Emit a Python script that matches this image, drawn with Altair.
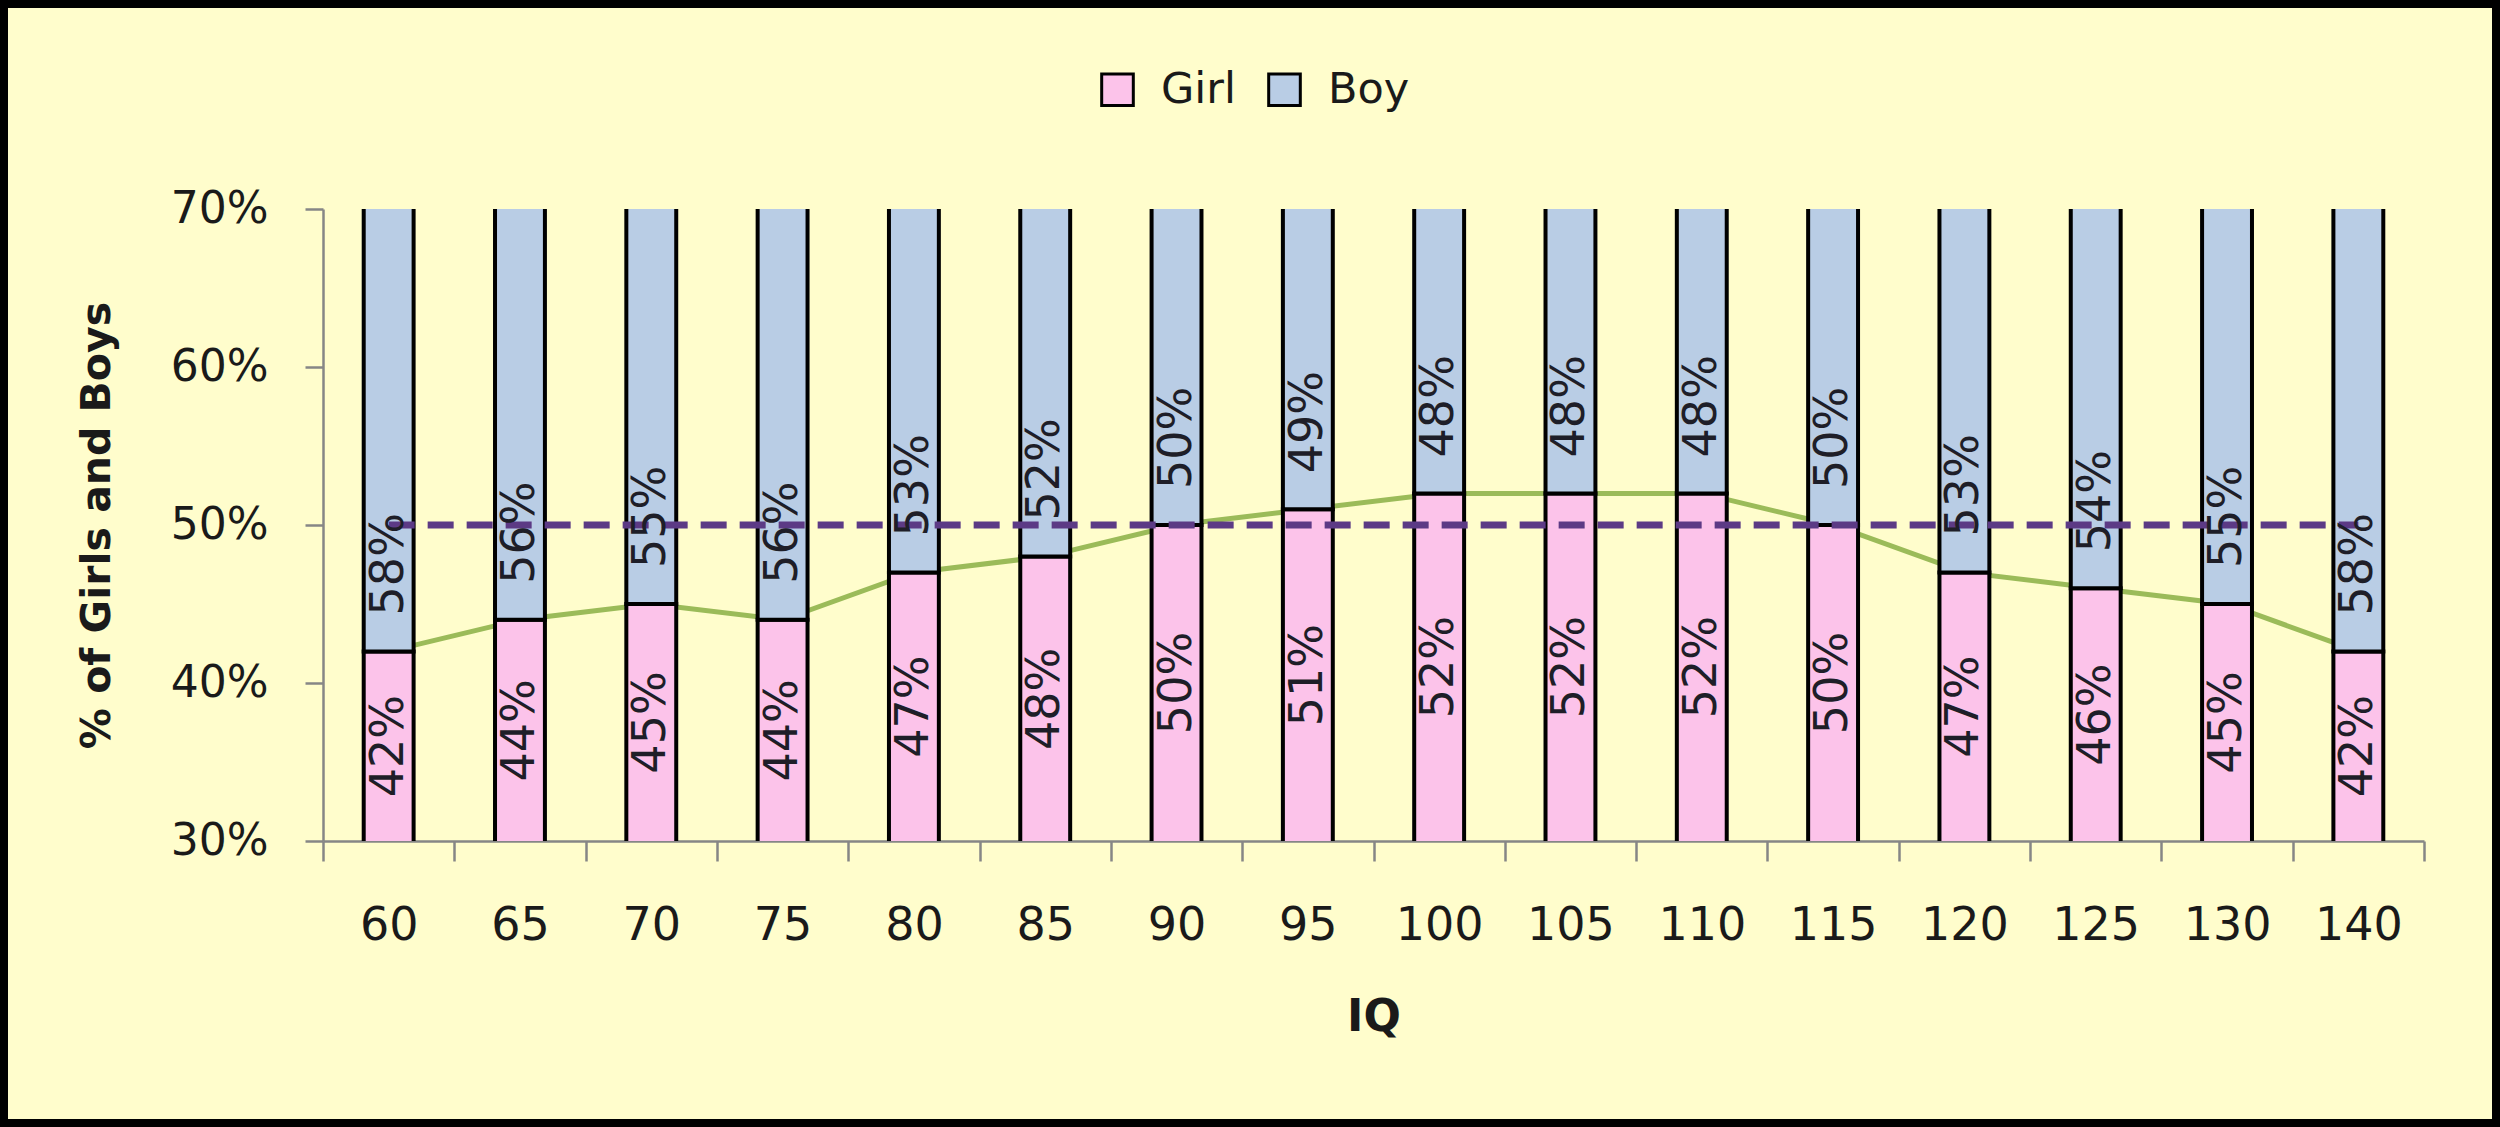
import altair as alt
import pandas as pd

# ---- data ----
iq = [60, 65, 70, 75, 80, 85, 90, 95, 100, 105, 110, 115, 120, 125, 130, 140]
girl = [0.42, 0.44, 0.45, 0.44, 0.47, 0.48, 0.50, 0.51, 0.52, 0.52, 0.52, 0.50, 0.47, 0.46, 0.45, 0.42]
boy = [0.58, 0.56, 0.55, 0.56, 0.53, 0.52, 0.50, 0.49, 0.48, 0.48, 0.48, 0.50, 0.53, 0.54, 0.55, 0.58]
series = ["Girl", "Boy"]
colors = ["#FCC3EA", "#B9CDE5"]
y_ticks = [0.3, 0.4, 0.5, 0.6, 0.7]
even_line = 0.5

Y_MIN, Y_MAX = 0.3, 0.7

# ---- tables built from the arrays ----
long_rows = []
for i, g, b in zip(iq, girl, boy):
    long_rows.append({"IQ": i, "sex": "Girl", "order": 0, "value": g})
    long_rows.append({"IQ": i, "sex": "Boy", "order": 1, "value": b})
long_df = pd.DataFrame(long_rows)
wide_df = pd.DataFrame({"IQ": iq, "girl": girl, "boy": boy})

FONT = "DejaVu Sans"
W, H = 2101, 632
PAD_L, PAD_T, PAD_R, PAD_B = 323, 209, 76, 286

x_enc = alt.X(
    "IQ:O",
    title="IQ",
    scale=alt.Scale(paddingInner=0, paddingOuter=0),
    axis=alt.Axis(
        labelAngle=0,
        labelAlign="center",
        tickBand="extent",
        tickSize=20,
        labelPadding=64,
        titlePadding=47,
        labelFontSize=46,
        titleFontSize=44,
        titleFontWeight="bold",
    ),
)
y_scale = alt.Scale(domain=[Y_MIN, Y_MAX], nice=False, zero=False)

bars = alt.Chart(long_df).mark_bar(
    stroke="black", strokeWidth=4, clip=True, width=alt.RelativeBandSize(0.38)
).encode(
    x=x_enc,
    y=alt.Y(
        "value:Q",
        stack="zero",
        scale=y_scale,
        title="% of Girls and Boys",
        axis=alt.Axis(
            values=y_ticks,
            format=".0%",
            tickSize=18,
            labelPadding=37,
            titlePadding=52,
            labelFontSize=44,
            titleFontSize=41,
            titleFontWeight="bold",
        ),
    ),
    color=alt.Color(
        "sex:N",
        scale=alt.Scale(domain=series, range=colors),
        legend=alt.Legend(
            title=None,
            orient="none",
            legendX=773,
            legendY=-141,
            direction="horizontal",
            symbolType="square",
            symbolSize=1000,
            symbolStrokeColor="black",
            symbolStrokeWidth=3,
            labelFontSize=43,
            labelOffset=22,
            columnPadding=26,
        ),
    ),
    order=alt.Order("order:Q"),
)

green = alt.Chart(wide_df).mark_line(color="#9BBB59", strokeWidth=5).encode(
    x=alt.X("IQ:O"),
    y=alt.Y("girl:Q", scale=y_scale),
)

dashed = alt.Chart(wide_df).mark_line(
    color="#5C3A85", strokeWidth=7, strokeDash=[26, 13]
).encode(
    x=alt.X("IQ:O"),
    y=alt.datum(even_line),
)

girl_lbl = alt.Chart(wide_df).transform_calculate(
    mid=f"({Y_MIN} + datum.girl) / 2"
).mark_text(
    angle=270, align="center", baseline="middle", fontSize=46, color="#1E1E28", font=FONT
).encode(
    x=alt.X("IQ:O"),
    y=alt.Y("mid:Q", scale=y_scale),
    text=alt.Text("girl:Q", format=".0%"),
)

boy_lbl = alt.Chart(wide_df).mark_text(
    angle=270, align="left", baseline="middle", dx=36, fontSize=46, color="#1E1E28", font=FONT
).encode(
    x=alt.X("IQ:O"),
    y=alt.Y("girl:Q", scale=y_scale),
    text=alt.Text("boy:Q", format=".0%"),
)

frame = alt.Chart(alt.Data(values=[{"k": 1}])).mark_rect(
    fillOpacity=0, stroke="black", strokeWidth=8
).encode(
    x=alt.value(-PAD_L + 4),
    x2=alt.value(W + PAD_R - 4),
    y=alt.value(-PAD_T + 4),
    y2=alt.value(H + PAD_B - 4),
)

chart = alt.layer(green, bars, dashed, girl_lbl, boy_lbl, frame).properties(
    width=W,
    height=H,
    autosize=alt.AutoSizeParams(type="none"),
    padding={"left": PAD_L, "top": PAD_T, "right": PAD_R, "bottom": PAD_B},
    background="#FFFDCC",
).configure_view(stroke=None).configure_axis(
    domainColor="#868686",
    tickColor="#868686",
    domainWidth=2.5,
    tickWidth=2.5,
    grid=False,
    labelFont=FONT,
    titleFont=FONT,
    labelColor="#1A1A1A",
    titleColor="#1A1A1A",
).configure_legend(
    labelFont=FONT, labelColor="#1A1A1A"
)

chart.save("out.html", embed_options={"renderer": "svg", "actions": False})
